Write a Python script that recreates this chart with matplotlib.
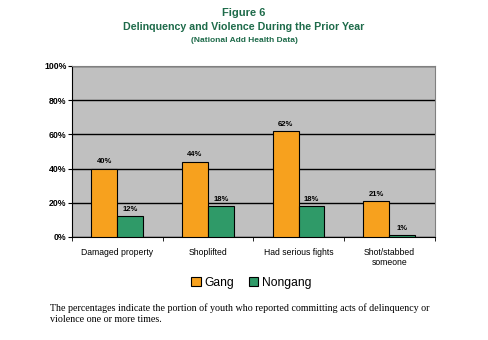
import matplotlib
matplotlib.use("Agg")
import matplotlib.pyplot as plt
import numpy as np
from matplotlib.patches import Patch

categories = ["Damaged property", "Shoplifted", "Had serious fights", "Shot/stabbed\nsomeone"]
gang = [40, 44, 62, 21]
nongang = [12, 18, 18, 1]
yticks = [0, 20, 40, 60, 80, 100]

ORANGE = "#F7A11E"
GREEN = "#2F9A68"
TITLE_GREEN = "#1E6B4A"

plt.rcParams["font.family"] = ["Liberation Sans", "DejaVu Sans"]

fig = plt.figure(figsize=(4.88, 3.40), dpi=100)
fig.patch.set_facecolor("white")
ax = fig.add_axes([0.1475, 0.303, 0.743, 0.503])
ax.set_facecolor("#C0C0C0")

x = np.arange(len(categories))
w = 0.285
b1 = ax.bar(x - w / 2, gang, w, color=ORANGE, edgecolor="black", linewidth=0.8, zorder=3)
b2 = ax.bar(x + w / 2, nongang, w, color=GREEN, edgecolor="black", linewidth=0.8, zorder=3)
for bars, vals in ((b1, gang), (b2, nongang)):
    for r, v in zip(bars, vals):
        ax.text(r.get_x() + r.get_width() / 2, v + 2, f"{v}%", ha="center", va="bottom",
                fontsize=5.5, fontweight="bold", zorder=4)

ax.set_xlim(-0.5, len(categories) - 0.5)
ax.set_ylim(0, 100)
ax.set_yticks(yticks)
ax.set_yticklabels([f"{t}%" for t in yticks], fontsize=6.3, fontweight="bold")
ax.yaxis.grid(True, color="black", linewidth=1.0, zorder=1)
ax.set_axisbelow(True)

ax.set_xticks(x)
ax.set_xticklabels(categories, fontsize=6.2)
ax.tick_params(axis="x", length=0, pad=8)
ax.set_xticks(np.arange(-0.5, len(categories)), minor=True)
ax.tick_params(axis="x", which="minor", length=3, direction="out")
ax.tick_params(axis="y", length=3, direction="out", pad=1)

for s in ["left", "bottom"]:
    ax.spines[s].set_color("black")
    ax.spines[s].set_linewidth(0.8)
for s in ["top", "right"]:
    ax.spines[s].set_color("#808080")
    ax.spines[s].set_linewidth(0.8)

fig.text(0.5, 0.962, "Figure 6", ha="center", va="center", fontsize=8, color=TITLE_GREEN, fontweight="bold")
fig.text(0.5, 0.921, "Delinquency and Violence During the Prior Year", ha="center", va="center",
         fontsize=7.7, color=TITLE_GREEN, fontweight="bold")
fig.text(0.5, 0.882, "(National Add Health Data)", ha="center", va="center", fontsize=6,
         color=TITLE_GREEN, fontweight="bold")

handles = [Patch(facecolor=ORANGE, edgecolor="black", linewidth=0.8),
           Patch(facecolor=GREEN, edgecolor="black", linewidth=0.8)]
fig.legend(handles, ["Gang", "Nongang"], loc="center", bbox_to_anchor=(0.515, 0.168), ncol=2,
           frameon=False, fontsize=8.7, handlelength=0.8, handleheight=0.8, handletextpad=0.3,
           columnspacing=1.2)

fig.text(0.103, 0.078, "The percentages indicate the portion of youth who reported committing acts of delinquency or\n"
         "violence one or more times.", ha="left", va="center", fontsize=7.2,
         family=["Liberation Serif", "DejaVu Serif"], linespacing=1.3)

fig.savefig("out.png", dpi=100)
